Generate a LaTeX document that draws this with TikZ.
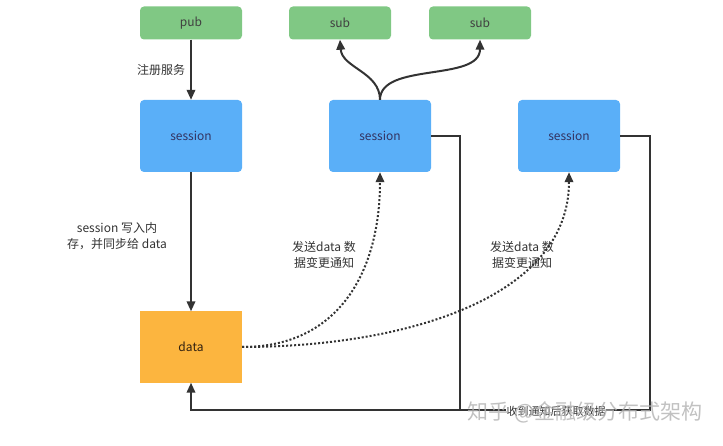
\documentclass[tikz,border=0pt]{standalone}
\usepackage{fontspec}
\setmainfont{Noto Sans CJK SC}
\usetikzlibrary{arrows.meta}
\definecolor{gbox}{HTML}{80C884}
\definecolor{bbox}{HTML}{5AAFF8}
\definecolor{obox}{HTML}{FCB53F}
\definecolor{ln}{HTML}{333333}
\tikzset{
  pubbox/.style={draw=none,fill=gbox,rounded corners=4pt,minimum width=102pt,minimum height=33pt,font=\fontsize{12}{14}\selectfont,text=black!75,inner sep=0pt},
  sessbox/.style={draw=none,fill=bbox,rounded corners=4pt,minimum width=102pt,minimum height=72pt,font=\fontsize{12}{14}\selectfont,text=black!70!blue!60!gray,inner sep=0pt},
  databox/.style={draw=none,fill=obox,minimum width=102pt,minimum height=71pt,font=\fontsize{12}{14}\selectfont,text=black!75!brown,inner sep=0pt},
  solidarr/.style={draw=ln,line width=2pt,-{Triangle[length=10pt,width=8.5pt]}},
  dotarr/.style={draw=ln,line width=2pt,dotted,-{Triangle[length=10pt,width=8.5pt]}},
  plainln/.style={draw=ln,line width=2pt},
  lbl/.style={font=\fontsize{12}{16}\selectfont,text=black!80,align=center,inner sep=1pt}
}
\begin{document}
\begin{tikzpicture}[x=1pt,y=-1pt]
\useasboundingbox (0,0) rectangle (723,446);
\node[pubbox] (pub) at (191,23) {pub};
\node[pubbox] (sub1) at (340,23) {sub};
\node[pubbox] (sub2) at (480,23) {sub};
\node[sessbox] (s1) at (191,136) {session};
\node[sessbox] (s2) at (380,136) {session};
\node[sessbox] (s3) at (569,136) {session};
\node[databox] (data) at (191,347) {data};

\draw[solidarr] (pub) -- (s1) node[pos=0.5,left=4pt,lbl] {注册服务};
\draw[solidarr] (s1) -- (data);
\node[lbl] (l1) at (117,236) {session 写入内\\存，并同步给 data};

\draw[solidarr] (s2.north) .. controls (380,72) and (342,68) .. (sub1.south);
\draw[solidarr] (s2.north) .. controls (380,62) and (480,82) .. (sub2.south);

\draw[dotarr] (data.east) .. controls (340,347) and (380,270) .. (s2.south);
\draw[dotarr] (data.east) .. controls (400,347) and (569,300) .. (s3.south);
\node[lbl] (l2) at (324,255) {发送data 数\\据变更通知};
\node[lbl] (l3) at (522,255) {发送data 数\\据变更通知};

\coordinate (a1) at (460,136);
\coordinate (a2) at (460,410);
\coordinate (b1) at (650,136);
\coordinate (b2) at (650,410);
\coordinate (c1) at (191,410);
\draw[plainln] (s2.east) -- (a1) -- (a2);
\draw[plainln] (s3.east) -- (b1) -- (b2) -- (a2);
\draw[solidarr] (a2) -- (c1) -- (data.south);
\node[lbl,fill=white,font=\fontsize{11}{13}\selectfont,inner sep=0.5pt] (l4) at (556,411) {收到通知后获取数据};
\node[font=\fontsize{21}{23}\selectfont,text=gray!60,opacity=0.8] (wm) at (585,412) {知乎 @金融级分布式架构};
\end{tikzpicture}
\end{document}
